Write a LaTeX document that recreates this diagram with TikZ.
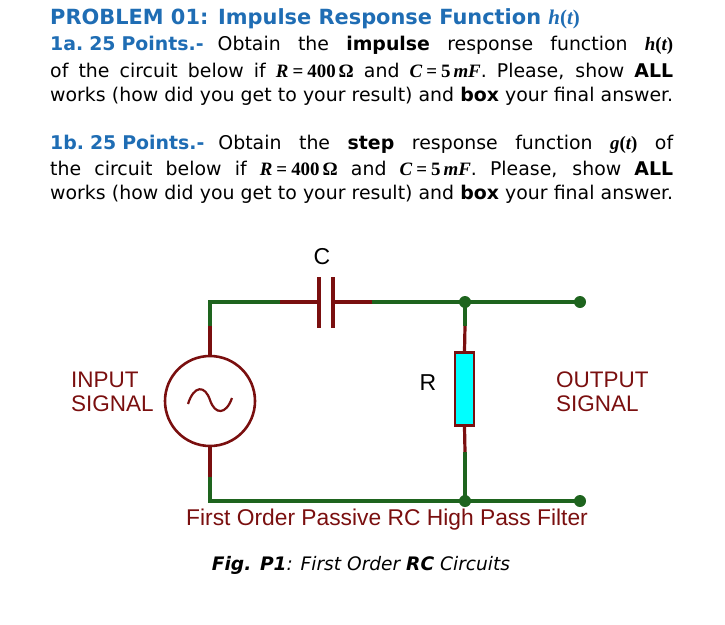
\documentclass[tikz,border=0pt]{standalone}
\usepackage{fontspec}
\setmainfont{DejaVu Sans}
\newfontfamily\arialf{Liberation Sans}
\newfontfamily\timesf{Liberation Serif}
\definecolor{tblue}{HTML}{1F6DB4}
\definecolor{wgreen}{HTML}{1E641E}
\definecolor{wred}{HTML}{7A0F0F}
\definecolor{rcyan}{HTML}{00FFFF}
\newcommand{\mth}[1]{{\timesf\bfseries #1}}
\newcommand{\mi}[1]{{\timesf\bfseries\itshape #1}}
\newcommand{\jline}[1]{\hbox to 623pt{#1}}
\newcommand{\rval}{\mi{R}\kern4pt\mth{=\kern4pt400\kern3pt Ω}}
\newcommand{\cval}{\mi{C}\kern4pt\mth{=\kern4pt5\kern3pt}\mi{mF}}
\tikzset{
  wire/.style={draw=wgreen, line width=3.2pt},
  lead/.style={draw=wred, line width=3.2pt},
  txtline/.style={anchor=west, inner sep=0pt, font=\fontsize{18.9}{22}\selectfont},
  clabel/.style={inner sep=0pt, font=\arialf\fontsize{23}{25}\selectfont},
  dot/.style={circle, fill=wgreen, inner sep=0pt, minimum size=12pt}
}
\begin{document}
\begin{tikzpicture}[x=1pt,y=-1pt]
\useasboundingbox (0,0) rectangle (725,624);
% header text
\node[anchor=west, inner sep=0pt, font=\fontsize{20.9}{24}\selectfont\bfseries, text=tblue] (title) at (50,19) {PROBLEM 01: Impulse Response Function \mi{h}\mth{(}\mi{t}\mth{)}};
\node[txtline] (l1) at (50,45) {\jline{\textcolor{tblue}{\bfseries 1a.\kern6pt25\kern6pt Points.-}\kern14pt Obtain the \textbf{impulse} response function \mi{h}\mth{(}\mi{t}\mth{)}}};
\node[txtline] (l2) at (50,71) {\jline{of the circuit below if \rval{} and \cval. Please, show \textbf{ALL}}};
\node[txtline] (l3) at (50,96) {\jline{works (how did you get to your result) and \textbf{box} your final answer.}};
\node[txtline] (l4) at (50,144) {\jline{\textcolor{tblue}{\bfseries 1b.\kern6pt25\kern6pt Points.-}\kern14pt Obtain the \textbf{step} response function \mi{g}\mth{(}\mi{t}\mth{)} of}};
\node[txtline] (l5) at (50,169) {\jline{the circuit below if \rval{} and \cval. Please, show \textbf{ALL}}};
\node[txtline] (l6) at (50,194) {\jline{works (how did you get to your result) and \textbf{box} your final answer.}};
% circuit coordinates
\coordinate (tl) at (210,302);
\coordinate (bl) at (210,501);
\coordinate (cl) at (280,302);
\coordinate (cr) at (372,302);
\node[dot] (jt) at (465,302) {};
\node[dot] (jb) at (465,501) {};
\node[dot] (ot) at (580,302) {};
\node[dot] (ob) at (580,501) {};
\coordinate (st) at (210,326);
\coordinate (sb) at (210,477);
\coordinate (rt) at (465,326);
\coordinate (rb) at (465,452);
% wires
\draw[wire] (st) -- (tl) -- (cl);
\draw[wire] (cr) -- (jt.center) -- (ot.center);
\draw[wire] (jt.center) -- (rt);
\draw[wire] (rb) -- (jb.center);
\draw[wire] (sb) -- (bl) -- (jb.center) -- (ob.center);
% capacitor
\draw[lead] (cl) -- (319,302) (333,302) -- (cr);
\draw[lead] (319,277) -- (319,328) (333,277) -- (333,328);
% source
\node[circle, draw=wred, line width=2.6pt, minimum size=90pt, inner sep=0pt] (src) at (210,401) {};
\draw[lead] (st) -- (src.north);
\draw[lead] (src.south) -- (sb);
\draw[wred, line width=2.2pt] (188,404) .. controls (194,385) and (205,385) .. (210,400) .. controls (215,415) and (226,415) .. (232,398);
% resistor
\node[draw=wred, fill=rcyan, line width=2.6pt, minimum width=19pt, minimum height=73pt, inner sep=0pt] (res) at (464.5,389) {};
\draw[lead] (rt) -- (res.north);
\draw[lead] (res.south) -- (rb);
% labels
\node[clabel] (lc) at (322,257) {C};
\node[clabel] (lr) at (428,383) {R};
\node[clabel, text=wred, anchor=west, align=left, font=\arialf\fontsize{22.5}{24}\selectfont] (lin) at (71,392) {INPUT\\SIGNAL};
\node[clabel, text=wred, anchor=west, align=left, font=\arialf\fontsize{22.5}{24}\selectfont] (lout) at (556,392) {OUTPUT\\SIGNAL};
\node[clabel, text=wred, font=\arialf\fontsize{22.8}{25}\selectfont] (cap) at (387,520) {First Order Passive RC High Pass Filter};
\node[inner sep=0pt, font=\fontsize{18.6}{21}\selectfont\itshape] (fig) at (361,565) {\textbf{Fig. P1}: First Order \textbf{RC} Circuits};
\end{tikzpicture}
\end{document}
